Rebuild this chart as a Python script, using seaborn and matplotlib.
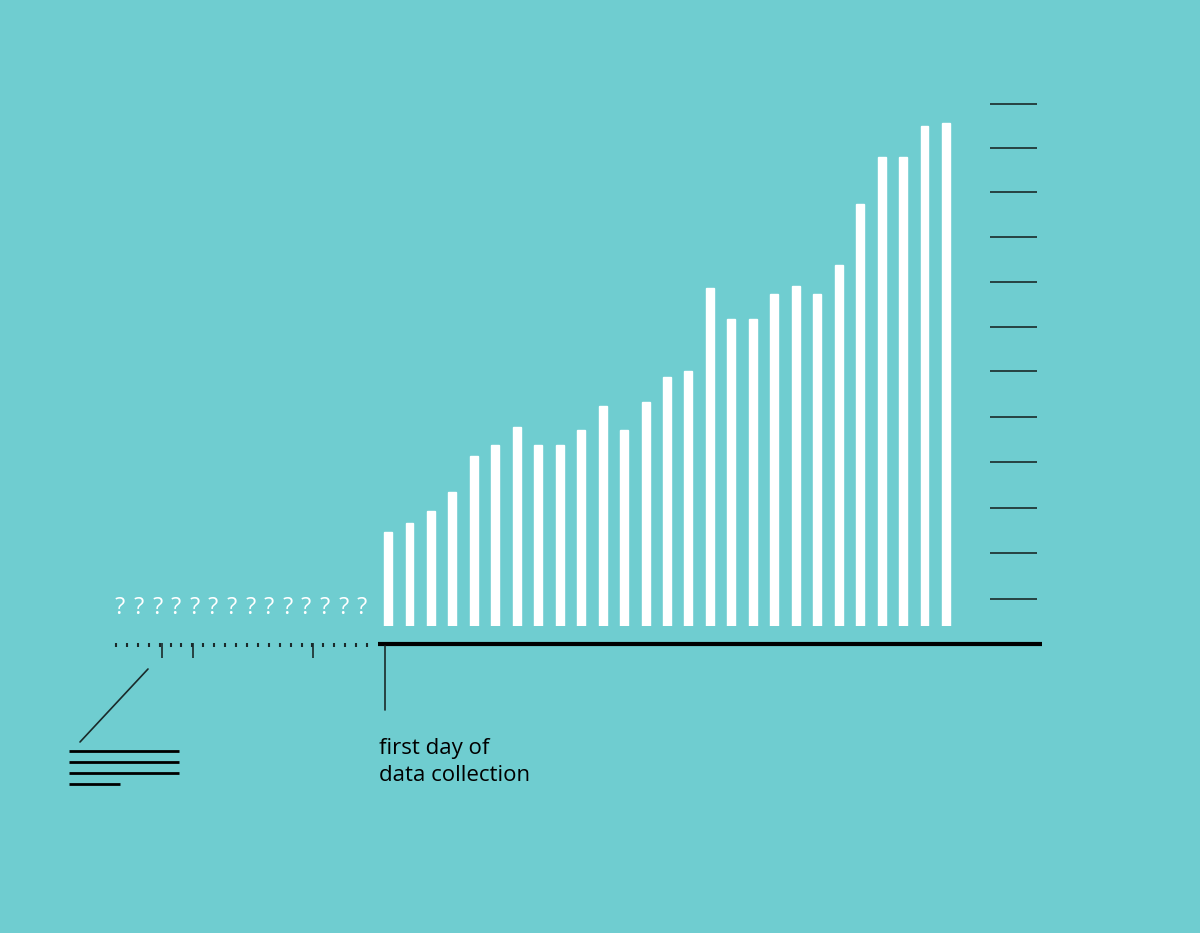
import numpy as np
import pandas as pd
import matplotlib
matplotlib.use("Agg")
import matplotlib.pyplot as plt
import seaborn as sns

# daily values
days = list(range(27))
values = [94, 103, 115, 134, 170, 181, 199, 181, 181, 196, 220, 196, 224, 249,
          255, 338, 307, 307, 332, 340, 332, 361, 422, 469, 469, 500, 503]
scale_levels = [27, 73, 118, 164, 209, 255, 299, 344, 389, 434, 478, 522]
n_unknown = 14
long_ticks = [162, 193, 313]

BG = "#6fcdd0"
W, H = 1200, 933

sns.set_theme(style="white")
plt.rcParams["font.family"] = ["Open Sans", "DejaVu Sans"]

fig = plt.figure(figsize=(12, 9.33), dpi=100)
fig.patch.set_facecolor(BG)

# overlay axes in pixel coordinates for the decorations
deco = fig.add_axes([0, 0, 1, 1])
deco.set_xlim(0, W)
deco.set_ylim(H, 0)
deco.axis("off")
deco.set_facecolor(BG)

# bar axes: x -0.5..26.5 -> px 377..957, y 0..520 -> px 626..106
x0, x1 = 377.3, 956.7
y0, y1 = 626, 106
ax = fig.add_axes([x0 / W, 1 - y0 / H, (x1 - x0) / W, (y0 - y1) / H])
df = pd.DataFrame({"day": days, "value": values})
sns.barplot(data=df, x="day", y="value", color="white", saturation=1,
            width=0.37, ax=ax)
ax.set_xlim(-0.5, 26.5)
ax.set_ylim(0, 520)
ax.axis("off")
ax.patch.set_alpha(0)

# right-side scale marks
scale_px = [y0 - v for v in scale_levels]
deco.hlines(scale_px, 990, 1037, color="#1a2a2a", lw=1.2)

# main axis line
deco.plot([378, 1042], [644, 644], color="black", lw=3, solid_capstyle="butt")
# dotted part before data collection
dots = np.linspace(116, 367, 24)
deco.vlines(dots, 643, 647, color="#1a2a2a", lw=1.5)
deco.vlines(long_ticks, 643, 658, color="#1a2a2a", lw=1.2)

# question marks
qx = np.linspace(120, 362, n_unknown)
for x in qx:
    deco.text(x, 608, "?", color="white", fontsize=17, ha="center", va="center",
              family="Open Sans")

# first-day marker
deco.plot([385, 385], [646, 710], color="#1a2a2a", lw=1.2)
deco.text(379, 762, "first day of\ndata collection", fontsize=16, color="black",
          ha="left", va="center", linespacing=1.35)

# left annotation
deco.plot([148, 80], [669, 742], color="#1a2a2a", lw=1.2)
deco.hlines([751, 762, 773], 69, 179, color="black", lw=2)
deco.hlines([784], 69, 120, color="black", lw=2)

fig.savefig("out.png", dpi=100, facecolor=BG)
